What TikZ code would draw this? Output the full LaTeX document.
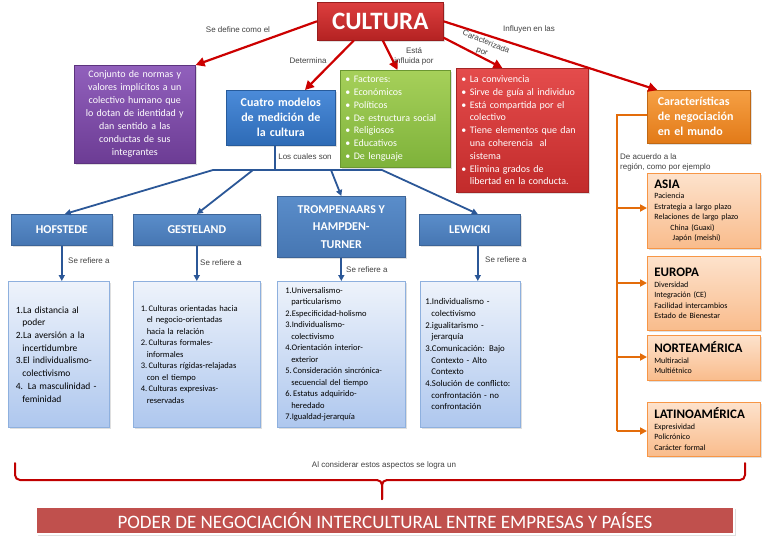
\documentclass[tikz,border=0pt]{standalone}
\usepackage{fontspec}
\setmainfont{Carlito}
\newfontfamily\arialfont{Liberation Sans}
\usepackage{tikz}
\usetikzlibrary{arrows.meta,shadows,calc}

\definecolor{rojoflecha}{HTML}{CC0000}
\definecolor{azullinea}{HTML}{2B5797}
\definecolor{naranjalinea}{HTML}{E36C0A}
\definecolor{llaverojo}{HTML}{C00000}
\definecolor{grisetiq}{HTML}{404040}
\definecolor{culturaA}{HTML}{DC3E3E}
\definecolor{culturaB}{HTML}{B42222}
\definecolor{moradoA}{HTML}{9160BC}
\definecolor{moradoB}{HTML}{6C3C94}
\definecolor{azulA}{HTML}{4B8BD9}
\definecolor{azulB}{HTML}{2E6BB6}
\definecolor{verdeA}{HTML}{A6D05A}
\definecolor{verdeB}{HTML}{7EB23A}
\definecolor{rojoA}{HTML}{E44C4C}
\definecolor{rojoB}{HTML}{C22B2B}
\definecolor{naranjaA}{HTML}{F6A044}
\definecolor{naranjaB}{HTML}{E27A18}
\definecolor{cabA}{HTML}{5A8DCA}
\definecolor{cabB}{HTML}{4676B2}
\definecolor{detA}{HTML}{EEF3FB}
\definecolor{detB}{HTML}{AEC7EE}
\definecolor{detBorde}{HTML}{8EB0DE}
\definecolor{regA}{HTML}{FDE2CC}
\definecolor{regB}{HTML}{F9BC8C}
\definecolor{regBorde}{HTML}{F79646}
\definecolor{poderrojo}{HTML}{C0504D}

\newcommand{\vin}{\makebox[0.85em][l]{\textbullet}}
\newcommand{\sang}{\hspace*{0.85em}}
\newcommand{\sng}{\hspace*{0.7em}}

\begin{document}
\begin{tikzpicture}[x=1pt,y=-1pt,
  caja/.style={anchor=north west, inner sep=2pt, align=center, text=white,
    drop shadow={shadow xshift=1.5pt, shadow yshift=-1.5pt, opacity=0.25}},
  cabeza/.style 2 args={caja, top color=#1, bottom color=#2, draw=#2!85!black, line width=0.6pt},
  detalle/.style={caja, align=left, text=black, top color=detA, bottom color=detB, draw=detBorde, line width=0.6pt},
  region/.style={caja, align=left, text=black, top color=regA, bottom color=regB, draw=regBorde, line width=0.6pt},
  etiq/.style={font=\arialfont\fontsize{8}{10}\selectfont, text=grisetiq, inner sep=1pt, align=center},
  flecharoja/.style={draw=rojoflecha, line width=2.2pt, -{Triangle[length=9pt,width=9pt]}},
  lineaazul/.style={draw=azullinea, line width=1.8pt},
  flechaazul/.style={lineaazul, -{Triangle[length=6pt,width=6pt]}},
  flechanaranja/.style={draw=naranjalinea, line width=1.8pt, -{Triangle[length=7pt,width=7pt]}}]
\useasboundingbox (0,0) rectangle (768,542);

% upper row
\node[cabeza={culturaA}{culturaB}, minimum width=126pt, minimum height=38pt,
  font=\fontsize{25}{27}\selectfont\bfseries] (cultura) at (317,2) {CULTURA};
\node[cabeza={moradoA}{moradoB}, minimum width=121pt, minimum height=98pt, text width=115pt,
  font=\fontsize{10}{13}\selectfont] (concepto) at (74,65)
  {Conjunto de normas y\\valores implícitos a un\\colectivo humano que\\lo dotan de identidad y\\dan sentido a las\\conductas de sus\\integrantes};
\node[cabeza={azulA}{azulB}, minimum width=109pt, minimum height=55pt, text width=100pt,
  font=\fontsize{12}{15}\selectfont\bfseries] (cuatro) at (226,90)
  {Cuatro modelos\\de medición de\\la cultura};
\node[cabeza={verdeA}{verdeB}, minimum width=110pt, minimum height=97pt, text width=100pt,
  align=left, font=\fontsize{10}{12.8}\selectfont] (factores) at (340,70)
  {\vin Factores:\\\vin Económicos\\\vin Políticos\\\vin De estructura social\\\vin Religiosos\\\vin Educativos\\\vin De lenguaje};
\node[cabeza={rojoA}{rojoB}, minimum width=132pt, minimum height=124pt, text width=122pt,
  align=left, font=\fontsize{10}{12.8}\selectfont] (rasgos) at (456,68)
  {\vin La convivencia\\\vin Sirve de guía al individuo\\\vin Está compartida por el\\\sang colectivo\\\vin Tiene elementos que dan\\\sang una coherencia\ \ al\\\sang sistema\\\vin Elimina grados de\\\sang libertad en la conducta.};
\node[cabeza={naranjaA}{naranjaB}, minimum width=103pt, minimum height=53pt, text width=82pt,
  align=left, font=\fontsize{12}{15}\selectfont\bfseries] (negocia) at (647,90)
  {Características\\de negociación\\en el mundo};

% the four models
\node[cabeza={cabA}{cabB}, minimum width=101pt, minimum height=31pt,
  font=\fontsize{12}{15}\selectfont\bfseries] (hof) at (11,214) {HOFSTEDE};
\node[cabeza={cabA}{cabB}, minimum width=127pt, minimum height=31pt,
  font=\fontsize{12}{15}\selectfont\bfseries] (ges) at (133,214) {GESTELAND};
\node[cabeza={cabA}{cabB}, minimum width=128pt, minimum height=61pt,
  font=\fontsize{12}{17.5}\selectfont\bfseries] (tromp) at (277,196) {TROMPENAARS Y\\HAMPDEN-\\TURNER};
\node[cabeza={cabA}{cabB}, minimum width=101pt, minimum height=31pt,
  font=\fontsize{12}{15}\selectfont\bfseries] (lew) at (419,214) {LEWICKI};

\node[detalle, minimum width=101pt, minimum height=146pt, text width=86pt,
  font=\fontsize{9.5}{12.7}\selectfont] (hofdet) at (8,281)
  {1.La distancia al\\\sng poder\\2.La aversión a la\\\sng incertidumbre\\3.El individualismo-\\\sng colectivismo\\4. La masculinidad -\\\sng feminidad};
\node[detalle, minimum width=127pt, minimum height=146pt, text width=112pt,
  font=\fontsize{8.5}{11.5}\selectfont] (gesdet) at (133,281)
  {1.\,Culturas orientadas hacia\\\sng el negocio-orientadas\\\sng hacia la relación\\2.\,Culturas formales-\\\sng informales\\3.\,Culturas rígidas-relajadas\\\sng con el tiempo\\4.\,Culturas expresivas-\\\sng reservadas};
\node[detalle, minimum width=128pt, minimum height=146pt, text width=112pt,
  font=\fontsize{8.5}{11.5}\selectfont] (trompdet) at (277,281)
  {1.Universalismo-\\\sng particularismo\\2.Especificidad-holismo\\3.Individualismo-\\\sng colectivismo\\4.Orientación interior-\\\sng exterior\\5.\,Consideración sincrónica-\\\sng secuencial del tiempo\\6.\,Estatus adquirido-\\\sng heredado\\7.Igualdad-jerarquía};
\node[detalle, minimum width=100pt, minimum height=146pt, text width=90pt,
  font=\fontsize{8.8}{11.7}\selectfont] (lewdet) at (420,281)
  {1.Individualismo -\\\sng colectivismo\\2.igualitarismo -\\\sng jerarquía\\3.Comunicación: Bajo\\\sng Contexto - Alto\\\sng Contexto\\4.Solución de conflicto:\\\sng confrontación - no\\\sng confrontación};

% regions
\node[region, minimum width=113pt, minimum height=75pt, text width=99pt,
  font=\fontsize{8}{10.5}\selectfont] (asia) at (647,173)
  {{\fontsize{13}{15}\selectfont\bfseries ASIA}\\Paciencia\\Estrategia a largo plazo\\Relaciones de largo plazo\\\hspace*{2em}China (Guaxi)\\\hspace*{2.3em}Japón (meishi)};
\node[region, minimum width=113pt, minimum height=74pt, text width=99pt,
  font=\fontsize{8}{10.5}\selectfont] (europa) at (647,256)
  {{\fontsize{13}{15}\selectfont\bfseries EUROPA}\\Diversidad\\Integración (CE)\\Facilidad intercambios\\Estado de Bienestar\\[6pt]};
\node[region, minimum width=113pt, minimum height=45pt, text width=99pt,
  font=\fontsize{8}{10.5}\selectfont] (norte) at (647,335)
  {{\fontsize{13}{15}\selectfont\bfseries NORTEAMÉRICA}\\Multiracial\\Multiétnico};
\node[region, minimum width=113pt, minimum height=54pt, text width=99pt,
  font=\fontsize{8}{10.5}\selectfont] (latino) at (647,402)
  {{\fontsize{13}{15}\selectfont\bfseries LATINOAMÉRICA}\\Expresividad\\Policrónico\\Carácter formal};

% result
\node[caja, fill=poderrojo, draw=white, line width=2pt, minimum width=698pt, minimum height=27pt,
  font=\fontsize{19}{20}\selectfont] (poder) at (35,506)
  {PODER DE NEGOCIACIÓN INTERCULTURAL ENTRE EMPRESAS Y PAÍSES};

% red arrows
\draw[flecharoja] (cultura.west) -- (concepto.north east);
\draw[flecharoja] ($(cultura.south west)!0.29!(cultura.south east)$) -- ($(cuatro.north west)!0.72!(cuatro.north east)$);
\draw[flecharoja] ($(cultura.south west)!0.52!(cultura.south east)$) -- ($(factores.north west)!0.52!(factores.north east)$);
\draw[flecharoja] ($(cultura.east)!0.85!(cultura.south east)$) -- ($(rasgos.north west)!0.35!(rasgos.north east)$);
\draw[flecharoja] (cultura.east) -- ($(negocia.north west)!0.1!(negocia.north east)$);

% blue tree
\coordinate (rama) at (275,170);
\coordinate (barI) at (213,170);
\coordinate (barG) at (253,170);
\coordinate (barT) at (331,170);
\coordinate (barD) at (382,170);
\coordinate (lewS) at ($(lew.south)+(8,0)$);
\draw[lineaazul] (cuatro.south -| rama) -- (rama);
\draw[lineaazul] (barI) -- (barD);
\draw[flechaazul] (barI) -- ($(hof.north)+(3,0)$);
\draw[flechaazul] (barG) -- (ges.north);
\draw[flechaazul] (barT) -- (tromp.north);
\draw[flechaazul] (barD) -- ($(lew.north)+(8,0)$);
\draw[flechaazul] (hof.south) -- (hof.south |- hofdet.north);
\draw[flechaazul] (ges.south) -- (ges.south |- gesdet.north);
\draw[flechaazul] (tromp.south) -- (tromp.south |- trompdet.north);
\draw[flechaazul] (lewS) -- (lewS |- lewdet.north);

% orange tree
\coordinate (tronco) at (617,115);
\coordinate (pie) at (617,431);
\draw[draw=naranjalinea, line width=1.8pt] (negocia.west |- tronco) -- (tronco) -- (pie);
\draw[flechanaranja] (617,208) -- (asia.west |- 0,208);
\draw[flechanaranja] (617,283) -- (europa.west |- 0,283);
\draw[flechanaranja] (617,357) -- (norte.west |- 0,357);
\draw[flechanaranja] (pie) -- (latino.west |- pie);

% brace
\draw[draw=llaverojo, line width=2pt, rounded corners=5pt, line cap=round] (15,463) -- (15,480) -- (382,480) -- (382,499);
\draw[draw=llaverojo, line width=2pt, rounded corners=5pt, line cap=round] (745,463) -- (745,480) -- (382,480) -- (382,499);

%Text
\node[etiq] (lDef) at (238,30) {Se define como el};
\node[etiq] (lDet) at (308,61) {Determina};
\node[etiq] (lInf) at (414,56) {Está\\influida por};
\node[etiq, rotate=-22, inner sep=0pt] (lCar) at (484,47) {Caracterizada\\por};
\node[etiq] (lInfl) at (529,29) {Influyen en las};
\node[etiq] (lCual) at (305,157) {Los cuales son};
\node[etiq, anchor=west] (lRef1) at (67,261) {Se refiere a};
\node[etiq, anchor=west] (lRef2) at (199,263) {Se refiere a};
\node[etiq, anchor=west] (lRef3) at (345,270) {Se refiere a};
\node[etiq, anchor=west] (lRef4) at (484,260) {Se refiere a};
\node[etiq, anchor=north west, align=left] (lAcu) at (619,152) {De acuerdo a la\\región, como por ejemplo};
\node[etiq] (lAl) at (384,465) {Al considerar estos aspectos se logra un};
\end{tikzpicture}
\end{document}
